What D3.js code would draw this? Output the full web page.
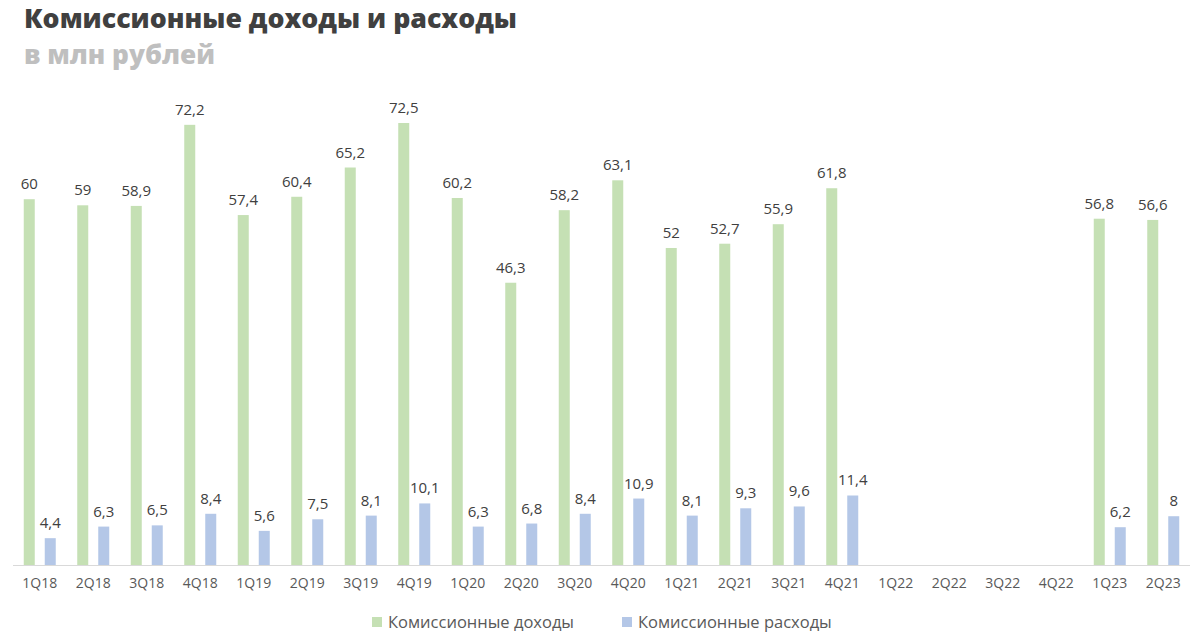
<!DOCTYPE html>
<html><head><meta charset="utf-8">
<script src="https://cdn.jsdelivr.net/npm/d3@7/dist/d3.min.js"></script>
<style>body{margin:0;background:#fff;font-family:"Open Sans",sans-serif}</style>
</head><body><svg id="c" width="1200" height="638"></svg>
<script>
const categories=["1Q18","2Q18","3Q18","4Q18","1Q19","2Q19","3Q19","4Q19","1Q20","2Q20","3Q20","4Q20","1Q21","2Q21","3Q21","4Q21","1Q22","2Q22","3Q22","4Q22","1Q23","2Q23"];
const income=[60,59,58.9,72.2,57.4,60.4,65.2,72.5,60.2,46.3,58.2,63.1,52,52.7,55.9,61.8,null,null,null,null,56.8,56.6];
const expense=[4.4,6.3,6.5,8.4,5.6,7.5,8.1,10.1,6.3,6.8,8.4,10.9,8.1,9.3,9.6,11.4,null,null,null,null,6.2,8];
const seriesNames=["Комиссионные доходы","Комиссионные расходы"];
const colors=["#c5e0b4","#b4c7e7"];
const svg=d3.select("#c");
svg.append("text").attr("x",24).attr("y",28).attr("font-size",26).attr("font-weight",800).attr("fill","#404040").attr("textLength",493).attr("lengthAdjust","spacingAndGlyphs").text("Комиссионные доходы и расходы");
svg.append("text").attr("x",24).attr("y",64).attr("font-size",26).attr("font-weight",800).attr("fill","#bfbfbf").attr("textLength",191).attr("lengthAdjust","spacingAndGlyphs").text("в млн рублей");
const x=d3.scaleBand().domain(categories).range([13,1190]);
const y=d3.scaleLinear().domain([0,72.5]).range([565,123]);
const fmt=v=>String(v).replace(".",",");
const bw=11;
[income,expense].forEach((arr,si)=>{
  const off=si===0?-16:5;
  const g=svg.append("g");
  categories.forEach((c,i)=>{
    const v=arr[i]; if(v==null) return;
    const cx=x(c)+x.bandwidth()/2+off;
    g.append("rect").attr("x",cx).attr("y",y(v)).attr("width",bw).attr("height",y(0)-y(v)).attr("fill",colors[si]);
    g.append("text").attr("x",cx+bw/2).attr("y",y(v)-10).attr("text-anchor","middle").attr("font-size",15).attr("fill","#404040").text(fmt(v));
  });
});
svg.append("line").attr("x1",13).attr("x2",1190).attr("y1",565.5).attr("y2",565.5).attr("stroke","#d9d9d9");
const ax=svg.append("g").attr("transform","translate(0,565)").call(d3.axisBottom(x).tickSize(0).tickPadding(13));
ax.select(".domain").remove();
ax.selectAll("text").attr("font-size",14).attr("fill","#595959").attr("font-family","Open Sans");
const lg=svg.append("g");
[[372,0],[622,1]].forEach(([lx,i])=>{
  lg.append("rect").attr("x",lx).attr("y",617).attr("width",10).attr("height",10).attr("fill",colors[i]);
  lg.append("text").attr("x",lx+16).attr("y",628).attr("font-size",16.5).attr("fill","#595959").text(seriesNames[i]);
});
</script></body></html>
